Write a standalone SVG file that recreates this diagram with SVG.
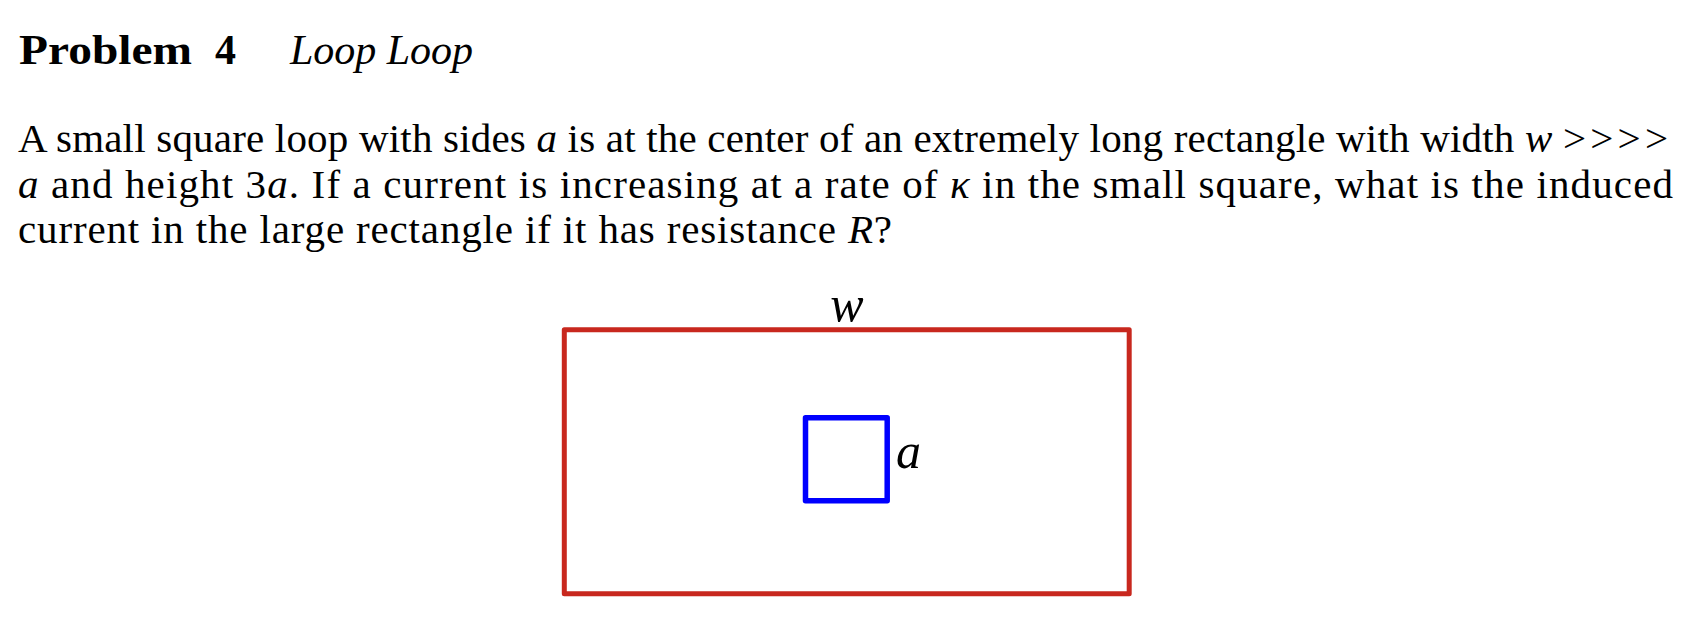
<svg xmlns="http://www.w3.org/2000/svg" width="1682" height="636" viewBox="0 0 1682 636">
  <style>
    .body { font-family: "Liberation Serif", "Times New Roman", serif; font-size: 41px; fill: #000; }
    .title { font-family: "Liberation Serif", "Times New Roman", serif; font-size: 42px; font-weight: bold; fill: #000; }
    .ttl-it { font-family: "Liberation Serif", "Times New Roman", serif; font-size: 42px; font-style: italic; fill: #000; }
    .m { font-style: italic; }
    .rel { letter-spacing: 4px; }
    .lbl { font-family: "Liberation Serif", "Times New Roman", serif; font-size: 50px; font-style: italic; fill: #000; }
    .outer { fill: none; stroke: #C8281E; stroke-width: 5; stroke-linejoin: round; }
    .inner { fill: none; stroke: #0000FF; stroke-width: 5.5; stroke-linejoin: round; }
  </style>
  <rect width="1682" height="636" fill="#FFFFFF"/>
  <g id="title">
    <text class="title" x="19" y="64.3" textLength="173" lengthAdjust="spacingAndGlyphs">Problem</text>
    <text class="title" x="215" y="64.3">4</text>
    <text class="ttl-it" x="290" y="64.3" textLength="183" lengthAdjust="spacing">Loop Loop</text>
  </g>
  <g id="problem-text">
    <text class="body" x="18" y="151.7" textLength="1654" lengthAdjust="spacing">A small square loop with sides <tspan class="m">a</tspan> is at the center of an extremely long rectangle with width <tspan class="m">w</tspan> <tspan class="rel">&gt;&gt;&gt;&gt;</tspan></text>
    <text class="body" x="18" y="197.5" textLength="1655" lengthAdjust="spacing"><tspan class="m">a</tspan> and height 3<tspan class="m">a</tspan>. If a current is increasing at a rate of <tspan class="m">κ</tspan> in the small square, what is the induced</text>
    <text class="body" x="18" y="243.3" textLength="874" lengthAdjust="spacing">current in the large rectangle if it has resistance <tspan class="m">R</tspan>?</text>
  </g>
  <g id="large-rectangle">
    <rect class="outer" x="564.3" y="329.8" width="564.9" height="264"/>
    <text class="lbl" x="847" y="321" text-anchor="middle">w</text>
  </g>
  <g id="small-square">
    <rect class="inner" x="805.5" y="417.8" width="81.7" height="83"/>
    <text class="lbl" x="896" y="468">a</text>
  </g>
  <g id="connectors"></g>
</svg>
